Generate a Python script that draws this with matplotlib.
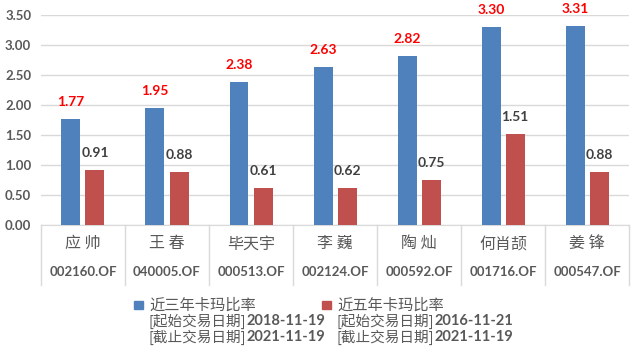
import matplotlib
matplotlib.use("Agg")
import matplotlib.pyplot as plt
import matplotlib.transforms as mtransforms
from matplotlib.patches import Rectangle
import numpy as np

plt.rcParams['font.family'] = ['Noto Sans CJK SC', 'DejaVu Sans']

# data
managers = ['应 帅', '王 春', '毕天宇', '李 巍', '陶 灿', '何肖颉', '姜 锋']
codes = ['002160.OF', '040005.OF', '000513.OF', '002124.OF', '000592.OF', '001716.OF', '000547.OF']
calmar_3y = [1.77, 1.95, 2.38, 2.63, 2.82, 3.30, 3.31]
calmar_5y = [0.91, 0.88, 0.61, 0.62, 0.75, 1.51, 0.88]
series_names = ['近三年卡玛比率', '近五年卡玛比率']
start_dates = ['2018-11-19', '2016-11-21']
end_dates = ['2021-11-19', '2021-11-19']

blue = '#4F81BD'
red = '#C0504D'
gray_txt = '#595959'
grid_c = '#D9D9D9'
num_font = ['Lato', 'DejaVu Sans']

fig = plt.figure(figsize=(6.4, 3.58), dpi=100)
ax = fig.add_axes([0.064, 0.3715, 0.919, 0.5865])

x = np.arange(len(managers))
w = 0.226
off = 0.143
b1 = ax.bar(x - off, calmar_3y, w, color=blue, zorder=3)
b2 = ax.bar(x + off, calmar_5y, w, color=red, zorder=3)

for rect, v in zip(b1, calmar_3y):
    ax.annotate(f'{v:.2f}', (rect.get_x() + rect.get_width() / 2, v),
                xytext=(0, 8), textcoords='offset points', ha='center', va='bottom',
                color='#FF0000', fontsize=10, fontweight='bold', family=num_font)
for rect, v in zip(b2, calmar_5y):
    ax.annotate(f'{v:.2f}', (rect.get_x() + rect.get_width() / 2, v),
                xytext=(0, 8), textcoords='offset points', ha='center', va='bottom',
                color='#404040', fontsize=10, fontweight='bold', family=num_font)

ax.set_xlim(-0.5, len(managers) - 0.5)
ax.set_ylim(0, 3.5)
yt = np.arange(0, 3.51, 0.5)
ax.set_yticks(yt)
ax.set_yticklabels([f'{t:.2f}' for t in yt],
                   fontsize=9.5, fontweight='bold', color=gray_txt, family=num_font)
ax.tick_params(axis='y', length=0, pad=7)
ax.set_xticks([])
ax.grid(axis='y', color=grid_c, linewidth=1, zorder=0)
for s in ['top', 'right', 'left']:
    ax.spines[s].set_visible(False)
ax.spines['bottom'].set_color(grid_c)

# two-level category axis
trans = mtransforms.blended_transform_factory(ax.transData, ax.transAxes)
for i in range(len(managers)):
    ax.text(x[i], -0.09, managers[i], transform=trans, ha='center', va='center',
            fontsize=11.5, color=gray_txt)
    ax.text(x[i], -0.225, codes[i], transform=trans, ha='center', va='center',
            fontsize=9.5, fontweight='bold', color=gray_txt, family=num_font)
for b in np.arange(-0.5, len(managers), 1.0):
    ax.plot([b, b], [0, -0.285], transform=trans, color=grid_c, lw=1, clip_on=False)

# legend
fig.canvas.draw()
rend = fig.canvas.get_renderer()
cols = [blue, red]
lx = [134 / 640, 322 / 640]
for k in range(2):
    fig.patches.append(Rectangle((lx[k], 1 - 309 / 358), 9 / 640, 8 / 358,
                                 transform=fig.transFigure, color=cols[k]))
    tx = lx[k] + 15 / 640
    fig.text(tx, 1 - 305 / 358, series_names[k], ha='left', va='center',
             fontsize=11, color=gray_txt)
    for yy, lab, d in [(321, '[起始交易日期]', start_dates[k]), (337, '[截止交易日期]', end_dates[k])]:
        t = fig.text(tx, 1 - yy / 358, lab, ha='left', va='center',
                     fontsize=10.5, color=gray_txt)
        bb = t.get_window_extent(rend)
        fig.text(bb.x1 / 640, 1 - yy / 358, d, ha='left', va='center',
                 fontsize=10.5, fontweight='bold', color=gray_txt, family=num_font)

fig.savefig('out.png', dpi=100)
